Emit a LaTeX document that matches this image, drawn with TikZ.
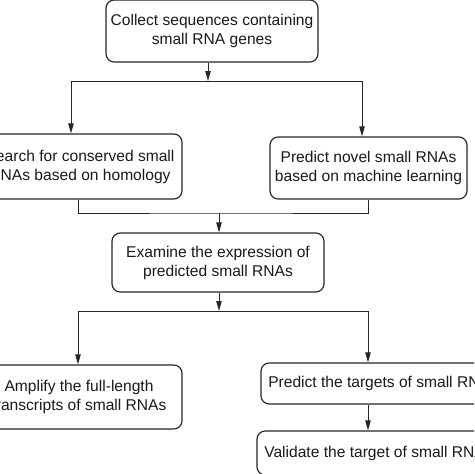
\documentclass[tikz,border=0pt]{standalone}
\usepackage{fontspec}
\setmainfont{Liberation Sans}
\usetikzlibrary{arrows.meta}

\begin{document}
\begin{tikzpicture}[x=0.03cm,y=-0.03cm,>={Stealth[length=8.5pt,width=4.6pt,inset=0pt]},line width=0.8pt,draw=black!85,
  proc/.style={draw=black!85,rounded corners=7pt,line width=1pt,align=center,inner sep=0pt,text=black!90,font=\fontsize{13.3}{16.2}\selectfont}]
\useasboundingbox (0,0) rectangle (474,474);
\clip (0,0) rectangle (474,474);
\node[proc, minimum width=6.36cm, minimum height=1.86cm] (collect) at (212,31) {Collect sequences containing\\small RNA genes};
\node[proc, minimum width=6.12cm, minimum height=1.95cm] (homology) at (80,166.5) {Search for conserved small\\RNAs based on homology};
\node[proc, minimum width=5.91cm, minimum height=1.86cm] (learning) at (368.5,168) {Predict novel small RNAs\\based on machine learning};
\node[proc, minimum width=6.36cm, minimum height=1.77cm] (expression) at (218,262.5) {Examine the expression of\\predicted small RNAs};
\node[proc, minimum width=6.18cm, minimum height=1.92cm] (amplify) at (79,397) {Amplify the full-length\\transcripts of small RNAs};
\node[proc, minimum width=7.32cm, minimum height=1.23cm] (targets) at (383,383.5) {Predict the targets of small RNAs};
\node[proc, minimum width=7.29cm, minimum height=1.32cm] (validate) at (378.5,453) {Validate the target of small RNAs};
\coordinate (split1) at (208,81);
\coordinate (join1) at (219,213);
\coordinate (split2) at (219,311);
\draw[->] (collect.south -| split1) -- (split1);
\draw[->] (split1) -| ([xshift=-0.27cm]homology.north);
\draw[->] (split1) -| ([xshift=-0.195cm]learning.north);
\draw ([xshift=-0.06cm]homology.south) |- (join1) -| (learning.south);
\draw[->] (join1) -- (expression.north -| join1);
\draw[->] (expression.south -| split2) -- (split2);
\draw[->] (split2) -| ([xshift=-0.03cm]amplify.north);
\draw[->] (split2) -| ([xshift=-0.45cm]targets.north);
\draw[->] ([xshift=-0.45cm]targets.south) -- ([xshift=-0.45cm]targets.south |- validate.north);
\end{tikzpicture}
\end{document}
